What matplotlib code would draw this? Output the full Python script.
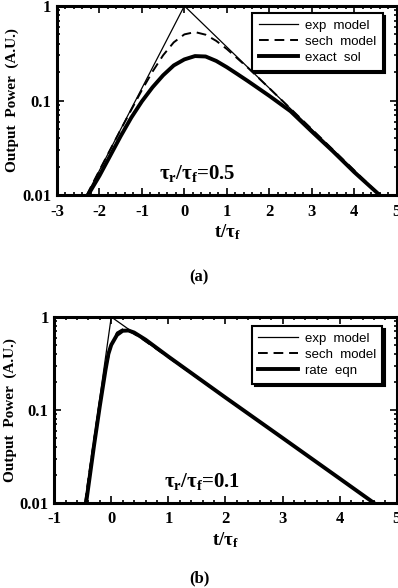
import numpy as np
import matplotlib
matplotlib.use("Agg")
import matplotlib.pyplot as plt
from matplotlib.ticker import MultipleLocator, LogLocator, NullFormatter, FixedFormatter, FixedLocator

plt.rcParams["font.family"] = "Liberation Serif"
plt.rcParams["font.weight"] = "bold"
plt.rcParams["axes.labelweight"] = "bold"
plt.rcParams["axes.unicode_minus"] = False
plt.rcParams["mathtext.fontset"] = "custom"
plt.rcParams["mathtext.rm"] = "Liberation Serif:bold"
plt.rcParams["mathtext.it"] = "Liberation Serif:bold"
plt.rcParams["mathtext.bf"] = "Liberation Serif:bold"

# -------------------------
# panel (a): tau_r/tau_f = 0.5
# -------------------------
t_exp_a = [-2.3, 0.0, 4.6]
p_exp_a = [0.01, 1.0, 0.01]

t_sech_a = [-2.3, -2.0, -1.5, -1.0, -0.75, -0.5, -0.25, 0.0, 0.25, 0.5, 0.75, 1.0, 1.5, 2.0, 3.0, 4.0, 4.6]
p_sech_a = [0.0100, 0.0183, 0.0492, 0.129, 0.202, 0.301, 0.412, 0.500, 0.529, 0.496, 0.427, 0.350, 0.221, 0.135, 0.0498, 0.0183, 0.0100]

t_exact_a = [-2.27, -2.0, -1.5, -1.25, -1.0, -0.75, -0.5, -0.25, 0.0, 0.25, 0.5, 0.75, 1.0, 1.25, 1.5, 2.0, 2.5, 3.0, 3.5, 4.0, 4.6]
p_exact_a = [0.0100, 0.016, 0.042, 0.066, 0.098, 0.138, 0.185, 0.235, 0.272, 0.295, 0.292, 0.262, 0.225, 0.19, 0.16, 0.112, 0.077, 0.047, 0.029, 0.0175, 0.0100]

# -------------------------
# panel (b): tau_r/tau_f = 0.1
# -------------------------
t_exp_b = [-0.46, 0.0, 4.6]
p_exp_b = [0.01, 1.0, 0.01]

t_sech_b = [-0.46, -0.4, -0.3, -0.2, -0.1, 0.0, 0.1, 0.2, 0.3, 0.5, 1.0, 2.0, 3.0, 4.0, 4.6]
p_sech_b = [0.0100, 0.0181, 0.048, 0.122, 0.276, 0.500, 0.679, 0.737, 0.714, 0.604, 0.368, 0.135, 0.0498, 0.0183, 0.0100]

t_rate_b = [-0.44, -0.3, -0.2, -0.1, -0.05, 0.0, 0.1, 0.2, 0.3, 0.4, 0.6, 1.0, 2.0, 3.0, 4.0, 4.6]
p_rate_b = [0.0100, 0.042, 0.11, 0.27, 0.40, 0.50, 0.64, 0.71, 0.715, 0.68, 0.57, 0.375, 0.136, 0.050, 0.0183, 0.0100]

fig = plt.figure(figsize=(3.98, 5.88), dpi=100)
ax_a = fig.add_axes([0.143, 0.668, 0.854, 0.322])
ax_b = fig.add_axes([0.136, 0.1446, 0.861, 0.3164])


def style_axes(ax, xlim, xticks):
    ax.set_yscale("log")
    ax.set_xlim(*xlim)
    ax.set_ylim(0.01, 1)
    ax.xaxis.set_major_locator(FixedLocator(xticks))
    ax.xaxis.set_minor_locator(MultipleLocator(0.2))
    ax.yaxis.set_major_locator(FixedLocator([0.01, 0.1, 1]))
    ax.yaxis.set_major_formatter(FixedFormatter(["0.01", "0.1", "1"]))
    ax.yaxis.set_minor_locator(LogLocator(base=10, subs=np.arange(2, 10)))
    ax.yaxis.set_minor_formatter(NullFormatter())
    ax.tick_params(which="both", direction="in", top=True, right=True,
                   labelsize=12, width=1.2)
    ax.tick_params(axis="x", which="both", pad=6)
    ax.tick_params(axis="y", which="both", pad=4)
    ax.tick_params(which="major", length=5)
    ax.tick_params(which="minor", length=2.5)
    for s in ax.spines.values():
        s.set_linewidth(2.2)
    ax.set_xlabel(r"$t/\tau_f$", fontsize=13.5, labelpad=2)
    ax.set_ylabel("Output  Power  (A.U.)", fontsize=11, labelpad=2)


def add_legend(ax, anchor):
    leg = ax.legend(loc="upper right", bbox_to_anchor=anchor, borderaxespad=0,
                    fancybox=False, shadow={"color": "black", "alpha": 1},
                    prop={"family": "Liberation Sans", "size": 9.5, "weight": "normal"},
                    handlelength=3.0, labelspacing=0.3, borderpad=0.5, handletextpad=0.5)
    leg.get_frame().set_edgecolor("black")
    leg.get_frame().set_linewidth(1.5)


# panel (a)
ax_a.plot(t_exp_a, p_exp_a, color="black", lw=0.9, label="exp  model")
ax_a.plot(t_sech_a, p_sech_a, color="black", lw=1.4, ls=(0, (5, 3)), label="sech  model")
ax_a.plot(t_exact_a, p_exact_a, color="black", lw=2.8, label="exact  sol")
style_axes(ax_a, (-3, 5), [-3, -2, -1, 0, 1, 2, 3, 4, 5])
ax_a.text(0.3, 0.017, r"$\tau_r/\tau_f$=0.5", fontsize=15, ha="center", va="center")
add_legend(ax_a, (0.958, 0.963))

# panel (b)
ax_b.plot(t_exp_b, p_exp_b, color="black", lw=0.9, label="exp  model")
ax_b.plot(t_sech_b, p_sech_b, color="black", lw=1.4, ls=(0, (5, 3)), label="sech  model")
ax_b.plot(t_rate_b, p_rate_b, color="black", lw=2.8, label="rate  eqn")
style_axes(ax_b, (-1, 5), [-1, 0, 1, 2, 3, 4, 5])
ax_b.text(1.59, 0.017, r"$\tau_r/\tau_f$=0.1", fontsize=15, ha="center", va="center")
add_legend(ax_b, (0.958, 0.952))

fig.text(0.5, 1 - 277 / 588, "(a)", fontsize=12, ha="center", va="center")
fig.text(0.5, 1 - 578 / 588, "(b)", fontsize=12, ha="center", va="center")

fig.savefig("out.png", dpi=100)
